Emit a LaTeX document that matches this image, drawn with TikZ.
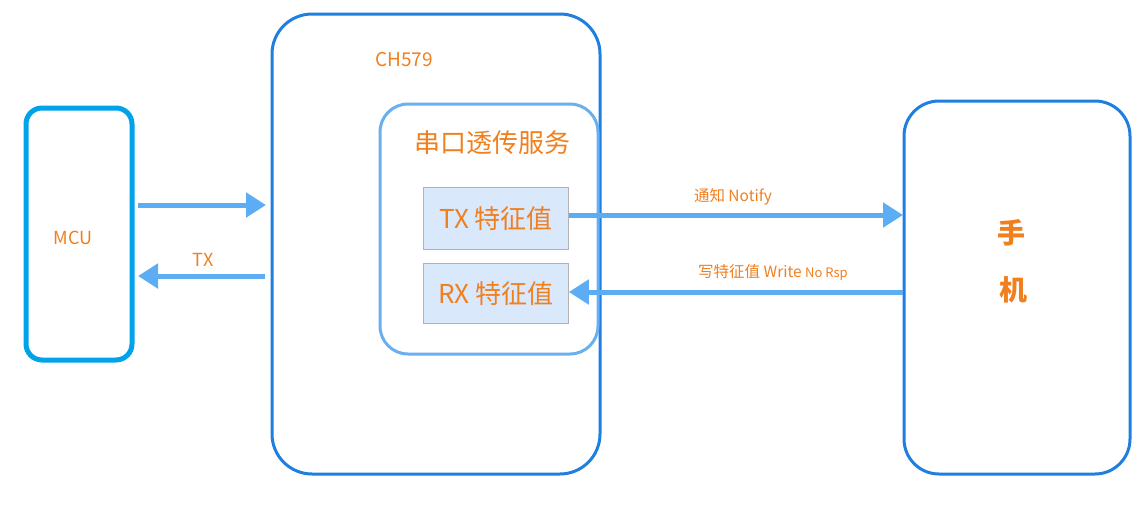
\documentclass[tikz,border=0pt]{standalone}
\usepackage{fontspec}
\setmainfont{Noto Sans CJK SC}
\usetikzlibrary{arrows.meta}
\definecolor{org}{HTML}{F07F1E}
\definecolor{dblue}{HTML}{1E7FE0}
\definecolor{cyanb}{HTML}{00A2E8}
\definecolor{lblue}{HTML}{6AAFF0}
\definecolor{arr}{HTML}{5DADF5}
\definecolor{cfill}{HTML}{DAE8FC}
\tikzset{
  box/.style={draw=dblue,line width=3pt,rounded corners=40pt},
  lab/.style={text=org,inner sep=0pt,anchor=center},
  ar/.style={draw=arr,line width=5pt,-{Triangle[length=20pt,width=24pt]}},
  ch/.style={draw=gray!60,fill=cfill,line width=0.8pt,inner sep=0pt}
}
\begin{document}
\begin{tikzpicture}[x=1pt,y=-1pt]
\useasboundingbox (0,0) rectangle (1146,512);
\draw[draw=cyanb,line width=5pt,rounded corners=16pt] (26,108) rectangle (132,360);
\node[lab,font=\fontsize{18}{18}\selectfont] (mcu) at (73,238) {MCU};
\draw[box] (272,14) rectangle (600,474);
\node[lab,font=\fontsize{19}{19}\selectfont] (ch) at (404,60) {CH579};
\draw[draw=lblue,line width=3pt,rounded corners=28pt] (380,104) rectangle (598,354);
\node[lab,font=\fontsize{26}{26}\selectfont] (svc) at (492,143) {串口透传服务};
\node[ch,minimum width=145pt,minimum height=62pt,anchor=north west] (tx) at (423,187) {};
\node[lab,font=\fontsize{26}{26}\selectfont] at (tx.center) {TX 特征值};
\node[ch,minimum width=145pt,minimum height=60pt,anchor=north west] (rx) at (423,263) {};
\node[lab,font=\fontsize{26}{26}\selectfont] at (rx.center) {RX 特征值};
\draw[box,rounded corners=35pt] (904,101) rectangle (1130,474);
\node[lab,font=\fontsize{28}{28}\selectfont\bfseries] (p1) at (1011,233) {手};
\node[lab,font=\fontsize{28}{28}\selectfont\bfseries] (p2) at (1013,290) {机};
\coordinate (a1) at (138,205); \coordinate (a2) at (266,205);
\coordinate (b1) at (265,276); \coordinate (b2) at (138,276);
\coordinate (c2) at (903,215); \coordinate (d1) at (903,292);
\draw[ar] (a1) -- (a2);
\draw[ar] (b1) -- (b2);
\draw[ar] (tx.east |- c2) -- (c2);
\draw[ar] (d1) -- (rx.east |- d1);
\node[lab,font=\fontsize{18}{18}\selectfont] at (203,260) {TX};
\node[lab,font=\fontsize{15.5}{15.5}\selectfont] at (733,197) {通知 Notify};
\node[lab,font=\fontsize{15.5}{15.5}\selectfont] at (773,272) {写特征值 Write {\fontsize{13}{13}\selectfont No Rsp}};
\end{tikzpicture}
\end{document}
